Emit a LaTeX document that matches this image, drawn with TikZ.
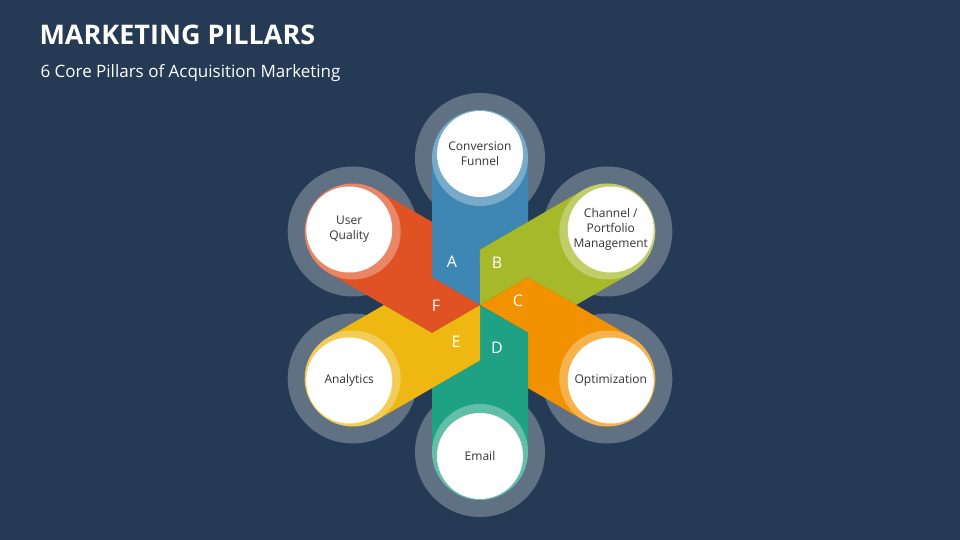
\documentclass[tikz,border=0pt]{standalone}
\usepackage{fontspec}
\setmainfont{Open Sans}
\usetikzlibrary{calc}
\definecolor{bg}{HTML}{253A54}
\definecolor{ringc}{HTML}{8A96A4}
\definecolor{cA}{HTML}{3E86B4}
\definecolor{cB}{HTML}{A5B92A}
\definecolor{cC}{HTML}{F39200}
\definecolor{cD}{HTML}{1FA283}
\definecolor{cE}{HTML}{EEB711}
\definecolor{cF}{HTML}{E05224}
\definecolor{txt}{HTML}{333333}
\begin{document}
\begin{tikzpicture}[x=1pt,y=1pt,
  ring/.style={circle,fill=ringc,fill opacity=0.6,minimum size=130pt,inner sep=0pt},
  face/.style={circle,fill=white,minimum size=86pt,inner sep=0pt,align=center,font=\fontsize{12}{15}\selectfont,text=txt},
  letter/.style={text=white,font=\fontsize{16}{16}\selectfont}]
\fill[bg] (0,0) rectangle (960,540);
\useasboundingbox (0,0) rectangle (960,540);
\node[anchor=west,text=white,font=\fontsize{27}{30}\selectfont\bfseries] (title) at (36,505) {MARKETING PILLARS};
\node[anchor=west,text=white,font=\fontsize{17}{20}\selectfont] (sub) at (37,467) {6 Core Pillars of Acquisition Marketing};
\coordinate (O) at (480,235);
\def\h{48}
% rings
\foreach \ang/\nm in {90/rA,30/rB,-30/rC,-90/rD,-150/rE,150/rF}
  \node[ring] (\nm) at ($(O)+(\ang:147)$) {};
% arms
\foreach \ang/\col in {90/cA,30/cB,-30/cC,-90/cD,-150/cE,150/cF}{
  \begin{scope}[shift={(O)},rotate=\ang-90]
    \fill[\col] (0,0) -- (-\h,27.7) -- (-\h,147) arc[start angle=180,end angle=0,radius=\h] -- (\h,83.1) -- (0,55.4) -- cycle;
    \fill[white,opacity=0.3] (0,147) circle[radius=\h];
  \end{scope}}
% faces
\foreach \ang/\nm/\t in {90/fA/{Conversion\\Funnel},30/fB/{Channel /\\Portfolio\\Management},-30/fC/Optimization,-90/fD/Email,-150/fE/Analytics,150/fF/{User\\Quality}}
  \node[face] (\nm) at ($(O)+(\ang:147)+(\ang:4)$) {\t};
\node[letter] (lA) at (452,278) {A};
\node[letter] (lB) at (497,277) {B};
\node[letter] (lC) at (518,239) {C};
\node[letter] (lD) at (497,192) {D};
\node[letter] (lE) at (456,198) {E};
\node[letter] (lF) at (436,234) {F};
\end{tikzpicture}
\end{document}
